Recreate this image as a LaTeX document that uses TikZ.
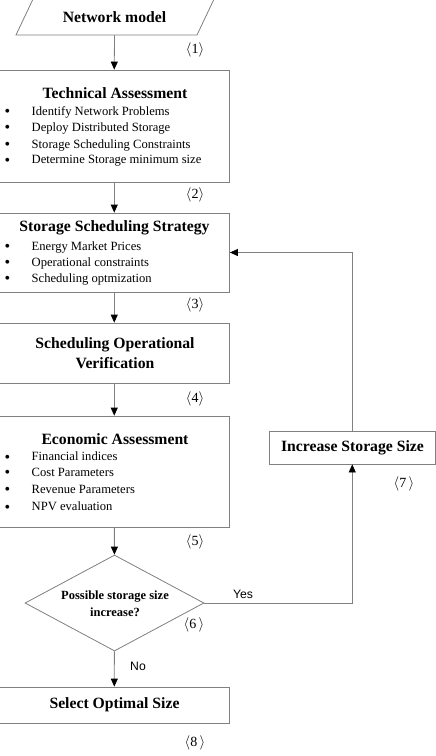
\documentclass[tikz,border=0pt]{standalone}
\usepackage{fontspec}
\setmainfont{Liberation Serif}
\newfontfamily\arialfont{Liberation Sans}
\usetikzlibrary{arrows.meta,shapes.geometric}
\definecolor{linegray}{RGB}{128,128,128}
\tikzset{
  box/.style={draw=linegray, line width=0.8pt, inner sep=0pt, rectangle},
  ttl/.style={font=\bfseries\fontsize{15.7}{18.5}\selectfont, inner sep=0pt, align=center},
  dtxt/.style={font=\bfseries\fontsize{12.5}{17}\selectfont, inner sep=0pt, align=center},
  itm/.style={font=\fontsize{12.6}{15}\selectfont, inner sep=0pt, anchor=west},
  num/.style={font=\fontsize{14}{16}\selectfont, inner sep=0pt},
  yn/.style={font=\arialfont\fontsize{12.2}{14}\selectfont, inner sep=0pt},
  conn/.style={draw=linegray, line width=0.8pt},
  flow/.style={conn, -{Triangle[color=black,width=7pt,length=8pt]}},
}
\newcommand{\bul}[1]{\makebox[27pt][l]{\raisebox{-1.3pt}{\fontsize{16}{16}\selectfont\textbullet}}#1}
\begin{document}
\begin{tikzpicture}[x=1pt,y=-1pt]
\useasboundingbox (0,0) rectangle (436,756);
\fill[white] (0,0) rectangle (436,756);
\clip (0,0) rectangle (436,756);

% network model (parallelogram, top cut off)
\draw[conn] (16,35) -- (197,35) -- (215,-3) -- (34,-3) -- cycle;
\node[ttl] (netmodel) at (114.5,17) {Network model};
\coordinate (netbot) at (114.5,35);

% boxes
\node[box, minimum width=230.5pt, minimum height=112pt] (tech) at (114.25,126) {};
\node[box, minimum width=230.5pt, minimum height=79pt] (sss) at (114.25,252.5) {};
\node[box, minimum width=230.5pt, minimum height=60pt] (sov) at (114.25,353) {};
\node[box, minimum width=230.5pt, minimum height=111pt] (econ) at (114.25,471.5) {};
\node[box, minimum width=230.5pt, minimum height=36pt] (select) at (114.25,705) {};
\node[box, minimum width=166.5pt, minimum height=33pt] (inc) at (352.25,447.5) {};
\node[diamond, draw=linegray, line width=0.8pt, inner sep=0pt, minimum width=179pt, minimum height=96pt] (dec) at (114.5,603) {};

% texts
\node[ttl] (techT) at (115,93) {Technical Assessment};
\node[itm] (techA) at (4.5,112) {\bul{Identify Network Problems}};
\node[itm] (techB) at (4.5,128) {\bul{Deploy Distributed Storage}};
\node[itm] (techC) at (4.5,145) {\bul{Storage Scheduling Constraints}};
\node[itm] (techD) at (4.5,161) {\bul{Determine Storage minimum size}};

\node[ttl] (sssT) at (114.5,228) {Storage Scheduling Strategy};
\node[itm] (sssA) at (4.5,247) {\bul{Energy Market Prices}};
\node[itm] (sssB) at (4.5,263) {\bul{Operational constraints}};
\node[itm] (sssC) at (4.5,279) {\bul{Scheduling optmization}};

\node[ttl] (sovT) at (115,353) {Scheduling Operational\\[1.5pt]Verification};

\node[ttl] (econT) at (115,439) {Economic Assessment};
\node[itm] (econA) at (4.5,457) {\bul{Financial indices}};
\node[itm] (econB) at (4.5,473) {\bul{Cost Parameters}};
\node[itm] (econC) at (4.5,490) {\bul{Revenue Parameters}};
\node[itm] (econD) at (4.5,507) {\bul{NPV evaluation}};

\node[dtxt] (decT) at (115,603.5) {Possible storage size\\increase?};
\node[ttl] (selT) at (114.5,705) {Select Optimal Size};
\node[ttl] (incT) at (352.5,448) {Increase Storage Size};

% step numbers
\node[num] (n1) at (195,50) {\(\langle\)1\(\rangle\)};
\node[num] (n2) at (195,195) {\(\langle\)2\(\rangle\)};
\node[num] (n3) at (195,305) {\(\langle\)3\(\rangle\)};
\node[num] (n4) at (195,399) {\(\langle\)4\(\rangle\)};
\node[num] (n5) at (195,542) {\(\langle\)5\(\rangle\)};
\node[num] (n6) at (194,625) {\(\langle\)6\,\(\rangle\)};
\node[num] (n7) at (404,484) {\(\langle\)7\,\(\rangle\)};
\node[num] (n8) at (195,743) {\(\langle\)8\,\(\rangle\)};

% connectors
\draw[flow] (netbot) -- (tech.north);
\draw[flow] (tech) -- (sss);
\draw[flow] (sss) -- (sov);
\draw[flow] (sov) -- (econ);
\draw[flow] (econ) -- (dec);
\draw[flow] (dec) -- (select);
\draw[flow] (dec.east) -| (inc.south);
\draw[flow] (inc.north) |- (sss.east);

\node[yn] (yes) at (243,594) {Yes};
\node[yn] (no) at (138,666) {No};
\end{tikzpicture}
\end{document}
